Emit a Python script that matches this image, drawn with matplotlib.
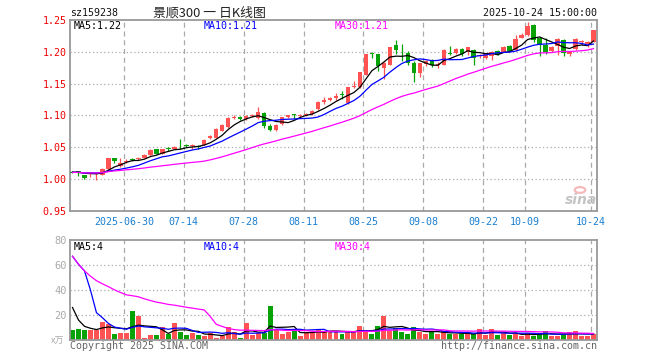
import matplotlib
matplotlib.use('Agg')
import matplotlib.pyplot as plt
from matplotlib.patches import Circle

# ---------------- data ----------------
dates = [
    '2025-06-17', '2025-06-18', '2025-06-19', '2025-06-20', '2025-06-23', '2025-06-24', '2025-06-25',
    '2025-06-26', '2025-06-27', '2025-06-30',
    '2025-07-01', '2025-07-02', '2025-07-03', '2025-07-04', '2025-07-07', '2025-07-08', '2025-07-09',
    '2025-07-10', '2025-07-11', '2025-07-14', '2025-07-15', '2025-07-16', '2025-07-17', '2025-07-18',
    '2025-07-21', '2025-07-22', '2025-07-23', '2025-07-24', '2025-07-25', '2025-07-28', '2025-07-29',
    '2025-07-30', '2025-07-31',
    '2025-08-01', '2025-08-04', '2025-08-05', '2025-08-06', '2025-08-07', '2025-08-08', '2025-08-11',
    '2025-08-12', '2025-08-13', '2025-08-14', '2025-08-15', '2025-08-18', '2025-08-19', '2025-08-20',
    '2025-08-21', '2025-08-22', '2025-08-25', '2025-08-26', '2025-08-27', '2025-08-28', '2025-08-29',
    '2025-09-01', '2025-09-02', '2025-09-03', '2025-09-04', '2025-09-05', '2025-09-08', '2025-09-09',
    '2025-09-10', '2025-09-11', '2025-09-12', '2025-09-15', '2025-09-16', '2025-09-17', '2025-09-18',
    '2025-09-19', '2025-09-22', '2025-09-23', '2025-09-24', '2025-09-25', '2025-09-26', '2025-09-29',
    '2025-09-30',
    '2025-10-09', '2025-10-10', '2025-10-13', '2025-10-14', '2025-10-15', '2025-10-16', '2025-10-17',
    '2025-10-20', '2025-10-21', '2025-10-22', '2025-10-23', '2025-10-24',
]

opens = [
    1.012, 1.012, 1.006, 1.009, 1.008, 1.007, 1.016, 1.033, 1.021, 1.027,
    1.031, 1.031, 1.034, 1.038, 1.047, 1.040, 1.048, 1.048, 1.051, 1.053,
    1.052, 1.052, 1.054, 1.064, 1.065, 1.076, 1.082, 1.096, 1.098, 1.094,
    1.099, 1.096, 1.104, 1.084, 1.077, 1.086, 1.097, 1.102, 1.099, 1.100,
    1.102, 1.110, 1.121, 1.124, 1.127, 1.134, 1.119, 1.144, 1.144, 1.164,
    1.198, 1.196, 1.175, 1.180, 1.211, 1.197, 1.198, 1.183, 1.166, 1.181,
    1.187, 1.180, 1.180, 1.198, 1.198, 1.205, 1.199, 1.203, 1.194, 1.191,
    1.193, 1.202, 1.200, 1.209, 1.203, 1.222, 1.226, 1.242, 1.221, 1.211,
    1.201, 1.209, 1.219, 1.196, 1.204, 1.215, 1.212, 1.216,
]
highs = [
    1.013, 1.013, 1.007, 1.012, 1.011, 1.017, 1.034, 1.034, 1.034, 1.031,
    1.033, 1.035, 1.039, 1.047, 1.048, 1.048, 1.050, 1.052, 1.063, 1.055,
    1.056, 1.053, 1.063, 1.069, 1.080, 1.086, 1.097, 1.100, 1.099, 1.100,
    1.102, 1.113, 1.105, 1.086, 1.086, 1.098, 1.101, 1.103, 1.103, 1.104,
    1.108, 1.122, 1.129, 1.129, 1.136, 1.139, 1.145, 1.154, 1.169, 1.197,
    1.200, 1.197, 1.184, 1.208, 1.218, 1.212, 1.202, 1.185, 1.183, 1.187,
    1.189, 1.184, 1.204, 1.209, 1.206, 1.206, 1.208, 1.204, 1.197, 1.197,
    1.201, 1.203, 1.209, 1.210, 1.226, 1.230, 1.247, 1.243, 1.222, 1.221,
    1.209, 1.221, 1.220, 1.201, 1.222, 1.219, 1.217, 1.235,
]
lows = [
    1.009, 1.005, 1.000, 1.004, 0.998, 1.006, 1.015, 1.026, 1.019, 1.025,
    1.028, 1.030, 1.033, 1.037, 1.039, 1.039, 1.044, 1.047, 1.048, 1.050,
    1.048, 1.048, 1.053, 1.063, 1.064, 1.075, 1.081, 1.094, 1.093, 1.093,
    1.097, 1.095, 1.081, 1.076, 1.076, 1.085, 1.096, 1.094, 1.097, 1.099,
    1.101, 1.109, 1.118, 1.123, 1.125, 1.126, 1.118, 1.143, 1.143, 1.163,
    1.190, 1.170, 1.157, 1.179, 1.196, 1.186, 1.180, 1.153, 1.160, 1.178,
    1.176, 1.174, 1.179, 1.195, 1.197, 1.193, 1.195, 1.180, 1.190, 1.188,
    1.187, 1.195, 1.199, 1.201, 1.202, 1.221, 1.225, 1.215, 1.194, 1.196,
    1.199, 1.195, 1.194, 1.194, 1.203, 1.210, 1.208, 1.215,
]
closes = [
    1.010, 1.011, 1.002, 1.010, 1.009, 1.016, 1.033, 1.028, 1.026, 1.029,
    1.030, 1.034, 1.038, 1.046, 1.040, 1.047, 1.047, 1.051, 1.050, 1.052,
    1.053, 1.051, 1.062, 1.068, 1.079, 1.085, 1.096, 1.098, 1.095, 1.099,
    1.101, 1.105, 1.084, 1.078, 1.085, 1.097, 1.100, 1.101, 1.101, 1.102,
    1.107, 1.121, 1.124, 1.127, 1.131, 1.132, 1.144, 1.147, 1.168, 1.196,
    1.197, 1.177, 1.182, 1.207, 1.203, 1.196, 1.183, 1.166, 1.182, 1.185,
    1.180, 1.181, 1.203, 1.197, 1.205, 1.197, 1.207, 1.190, 1.195, 1.196,
    1.200, 1.196, 1.208, 1.202, 1.220, 1.227, 1.240, 1.219, 1.211, 1.200,
    1.208, 1.220, 1.198, 1.200, 1.220, 1.216, 1.215, 1.234,
]
volumes = [
    8.2, 9.0, 8.2, 8.2, 8.2, 14.7, 13.0, 5.0, 6.0, 6.0,
    23.0, 19.5, 2.0, 4.2, 4.2, 10.8, 5.0, 13.7, 6.8, 4.2,
    6.0, 4.2, 2.9, 5.5, 1.6, 3.4, 10.5, 6.3, 1.8, 13.7,
    4.2, 5.5, 5.5, 27.0, 7.9, 5.0, 6.3, 7.9, 2.9, 6.8,
    6.3, 8.2, 6.8, 7.4, 7.4, 5.0, 6.8, 6.8, 11.3, 7.4,
    5.0, 11.3, 19.5, 7.4, 9.5, 6.3, 5.0, 10.5, 6.8, 5.0,
    6.3, 5.0, 7.4, 5.0, 4.7, 4.7, 4.7, 5.0, 9.0, 4.2,
    9.0, 4.2, 5.3, 4.2, 5.3, 3.4, 5.3, 3.4, 5.5, 7.4,
    3.4, 3.4, 4.7, 6.3, 7.4, 2.9, 3.4, 4.7,
]
# sessions before the first visible day (used only for the moving averages)
prior_closes = [1.008, 1.010, 1.011, 1.012, 1.011, 1.012, 1.011]
prior_volumes = [162.0, 189.0, 55.0, 59.0, 33.5, 16.0, 13.3]

tick_dates = ['2025-06-30', '2025-07-14', '2025-07-28', '2025-08-11', '2025-08-25',
              '2025-09-08', '2025-09-22', '2025-10-09', '2025-10-24']
price_levels = [0.95, 1.00, 1.05, 1.10, 1.15, 1.20, 1.25]
volume_levels = [20, 40, 60, 80]
ma_windows = [5, 10, 30]
price_ma_text = ['MA5:1.22', 'MA10:1.21', 'MA30:1.21']
volume_ma_text = ['MA5:4', 'MA10:4', 'MA30:4']

# ---------------- helpers ----------------
def moving_avg(vals, n):
    out = []
    for k in range(len(vals)):
        seg = vals[max(0, k - n + 1):k + 1]
        out.append(sum(seg) / len(seg))
    return out

RED = '#ff5252'
GREEN = '#06a206'
MA_COLORS = ['#000000', '#0000ff', '#ff00ff']
GRID = '#aaaaaa'
SPINE = '#999999'
MONO = 'DejaVu Sans Mono'
CJK = ['Noto Sans CJK SC', 'DejaVu Sans']

W, H = 660, 360
fig = plt.figure(figsize=(W / 100, H / 100), dpi=100)
fig.patch.set_facecolor('white')

def fx(px):
    return px / W

def fy(py):
    return 1 - py / H

L, R = 70, 597
ax = fig.add_axes([fx(L), fy(211), (R - L) / W, (211 - 20) / H])
axv = fig.add_axes([fx(L), fy(340), (R - L) / W, (340 - 240) / H])

n = len(dates)
xs = list(range(n))
x0 = -0.417
for a in (ax, axv):
    a.set_xlim(x0, n + x0)
    for s in a.spines.values():
        s.set_color(SPINE)
        s.set_linewidth(1.3)
    a.tick_params(length=0)

tick_pos = [dates.index(d) + x0 for d in tick_dates]
tick_lab = [tick_dates[0]] + [d[5:] for d in tick_dates[1:]]

# ---------------- price pane ----------------
ax.set_ylim(price_levels[0], price_levels[-1])
for lv in price_levels[1:-1]:
    ax.axhline(lv, color=GRID, lw=0.9, ls=(0, (1, 2)), zorder=0)
for tp in tick_pos:
    ax.axvline(tp, color=GRID, lw=0.9, ls=(0, (4, 3)), zorder=0)

up = [c >= o for o, c in zip(opens, closes)]
cols = [RED if u else GREEN for u in up]
ax.vlines(xs, lows, highs, colors=cols, lw=0.9, zorder=2)
body_bot = [min(o, c) for o, c in zip(opens, closes)]
body_h = [max(abs(c - o), 0.0013) for o, c in zip(opens, closes)]
ax.bar(xs, body_h, bottom=body_bot, width=0.75, color=cols, linewidth=0, zorder=3)

all_closes = prior_closes + closes
k0 = len(prior_closes)
for w, c in zip(ma_windows, MA_COLORS):
    m = moving_avg(all_closes, w)[k0:]
    ax.plot(xs, m, color=c, lw=0.9, zorder=4)

ax.set_yticks(price_levels)
ax.set_yticklabels(['%.2f' % v for v in price_levels], color='#ee0000',
                   fontsize=7.2, family=MONO)
ax.tick_params(axis='y', pad=2.5)
ax.set_xticks(tick_pos)
ax.set_xticklabels(tick_lab, color='#1a7fd0', fontsize=7.2, family=MONO)
ax.tick_params(axis='x', pad=4)

# sina watermark
ax.add_patch(Circle((fx(580), fy(190)), 0.008, transform=fig.transFigure,
                    fill=False, ec='#f4a8a8', lw=1.6, alpha=0.8, zorder=1))
fig.text(fx(581), fy(200), 'sina', ha='center', va='center', fontsize=10,
         style='italic', weight='bold', color='#c4c4c4', family='DejaVu Sans')

# ---------------- volume pane ----------------
axv.set_ylim(0, volume_levels[-1])
for lv in volume_levels[:-1]:
    axv.axhline(lv, color=GRID, lw=0.9, ls=(0, (1, 2)), zorder=0)
for tp in tick_pos:
    axv.axvline(tp, color=GRID, lw=0.9, ls=(0, (4, 3)), zorder=0)
axv.bar(xs, volumes, width=0.83, color=cols, linewidth=0, zorder=2)
all_vols = prior_volumes + volumes
kv = len(prior_volumes)
for w, c in zip(ma_windows, MA_COLORS):
    m = moving_avg(all_vols, w)[kv:]
    axv.plot(xs, m, color=c, lw=0.9, zorder=3)
axv.set_xticks([])
axv.set_yticks(volume_levels)
axv.set_yticklabels([str(v) for v in volume_levels], color='#aaaaaa',
                    fontsize=7.5, family=MONO)
axv.tick_params(axis='y', pad=2.5)

# ---------------- texts ----------------
fig.text(fx(70), fy(13), 'sz159238', ha='left', va='center', fontsize=7.2,
         family=MONO, color='#111111')
fig.text(fx(209), fy(13), '景顺300 一 日K线图', ha='center', va='center',
         fontsize=9.3, family=CJK, color='#222222')
fig.text(fx(597), fy(13), '2025-10-24 15:00:00', ha='right', va='center',
         fontsize=7.2, family=MONO, color='#111111')

leg_x = [74, 204, 335]
for xp, t, c in zip(leg_x, price_ma_text, MA_COLORS):
    fig.text(fx(xp), fy(26), t, ha='left', va='center', fontsize=7.2, family=MONO, color=c)
for xp, t, c in zip(leg_x, volume_ma_text, MA_COLORS):
    fig.text(fx(xp), fy(247), t, ha='left', va='center', fontsize=7.2, family=MONO, color=c)

fig.text(fx(64), fy(341), 'x万', ha='right', va='center', fontsize=6.5,
         family=CJK, color='#aaaaaa', style='italic')
fig.text(fx(70), fy(346), 'Copyright 2025 SINA.COM', ha='left', va='center',
         fontsize=7.2, family=MONO, color='#666666')
fig.text(fx(597), fy(346), 'http://finance.sina.com.cn', ha='right', va='center',
         fontsize=7.2, family=MONO, color='#666666')

fig.savefig('out.png', dpi=100, facecolor='white')
